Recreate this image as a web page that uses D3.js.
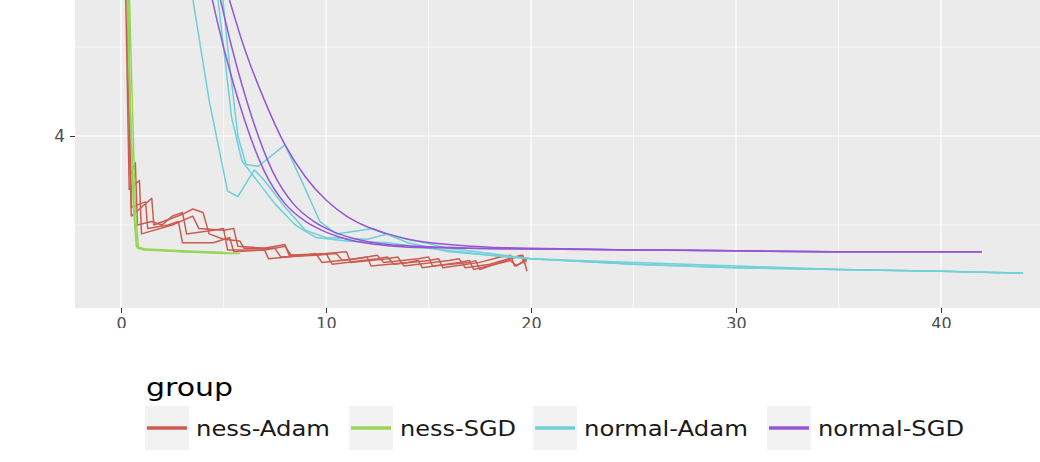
<!DOCTYPE html><html><head><meta charset="utf-8">
<script src="https://cdn.jsdelivr.net/npm/d3@7"></script>
<style>body{margin:0;background:#fff}</style></head><body><svg id="c" width="1040" height="462"></svg>
<script>
const groups=["ness-Adam","ness-SGD","normal-Adam","normal-SGD"];
const colors=["#CD5C50","#97D65A","#6ED0D8","#9457D6"];
const xTicks=[0,10,20,30,40];
const yTicks=[4];
const nessAdam=[
[[0.2,5.3],[0.5,3.55],[1.0,3.6],[1.5,3.65],[1.6,3.5],[3,3.56],[3.5,3.59],[4,3.57],[4.3,3.45],[5,3.42],[5.8,3.41],[6,3.37],[7.5,3.37],[8,3.38],[8.3,3.33],[9.5,3.33],[10.5,3.34],[10.8,3.3],[12,3.32],[12.5,3.33],[12.8,3.29],[14.5,3.31],[15,3.32],[15.2,3.27],[17,3.29],[17.3,3.3],[17.5,3.25],[19,3.31],[19.6,3.33],[19.8,3.24]],
[[0.25,5.3],[0.45,3.78],[0.7,3.85],[0.8,3.5],[1.5,3.52],[2,3.5],[2.5,3.55],[3,3.57],[3.2,3.45],[4.5,3.47],[5,3.48],[5.2,3.36],[7,3.36],[7.5,3.37],[7.8,3.32],[9.5,3.33],[10,3.34],[10.3,3.28],[12.5,3.31],[13,3.32],[13.3,3.28],[15,3.3],[15.5,3.31],[15.7,3.26],[17.5,3.29],[18.5,3.32],[19,3.33],[19.2,3.27],[19.8,3.3]],
[[0.15,5.3],[0.4,3.7],[0.9,3.75],[1.0,3.45],[2.5,3.5],[3.5,3.55],[3.8,3.48],[5,3.47],[5.5,3.48],[5.7,3.38],[7,3.37],[8,3.39],[8.2,3.33],[10,3.34],[11,3.35],[11.2,3.29],[13,3.31],[13.5,3.32],[13.8,3.27],[16,3.3],[16.5,3.31],[16.8,3.26],[18,3.28],[19.5,3.33],[19.7,3.28]],
[[0.3,5.3],[0.5,3.6],[1.2,3.63],[1.3,3.48],[2.3,3.5],[2.8,3.52],[3.0,3.4],[4.5,3.4],[5.3,3.43],[5.5,3.35],[7,3.36],[7.2,3.31],[9,3.33],[9.5,3.34],[9.8,3.29],[11.5,3.31],[12,3.32],[12.2,3.27],[14,3.29],[14.5,3.3],[14.7,3.26],[16.5,3.29],[17,3.3],[17.2,3.25],[19,3.3],[19.3,3.27],[19.8,3.31]]];
const nessSGD=[
[[0.2,5.3],[0.4,4.3],[0.6,3.6],[0.75,3.38],[1,3.365],[3,3.35],[5,3.34],[5.8,3.34]],
[[0.25,5.3],[0.45,4.2],[0.65,3.55],[0.8,3.37],[1.1,3.36],[3,3.35],[5,3.345],[5.5,3.34]],
[[0.3,5.3],[0.5,4.4],[0.7,3.6],[0.85,3.375],[1.2,3.365],[3,3.355],[5,3.345]]];
const normalAdam=[
[[2.9,5.2],[3.6,4.7],[4.3,4.2],[5.2,3.69],[5.7,3.66],[6.5,3.81],[7,3.75],[8,3.6],[9,3.47],[10,3.43],[12,3.42],[13,3.45],[14,3.42],[16,3.37],[18,3.34],[20,3.31],[25,3.28],[30,3.26],[35,3.25],[40,3.24],[44,3.23]],
[[4.6,5.2],[5.2,4.5],[5.7,4.0],[6.1,3.84],[6.7,3.83],[8,3.95],[9,3.7],[9.7,3.52],[10.5,3.45],[12.3,3.48],[14,3.4],[16,3.35],[18,3.33],[20,3.31],[25,3.29],[30,3.27],[35,3.25],[40,3.24],[44,3.23]],
[[4.3,5.2],[4.9,4.6],[5.4,4.1],[5.9,3.86],[6.3,3.8],[7.5,3.62],[8.5,3.5],[9.5,3.43],[11,3.41],[13,3.4],[15,3.37],[18,3.33],[20,3.31],[25,3.28],[30,3.26],[40,3.24],[43.5,3.23]]];
const normalSGD=[
[[4.0,5.0],[5.0,4.5],[6.0,4.1],[7.0,3.8],[8.0,3.62],[9.0,3.52],[10,3.46],[11,3.42],[12.5,3.39],[14,3.375],[17,3.37],[20,3.365],[25,3.36],[30,3.355],[35,3.35],[42,3.35]],
[[4.4,5.0],[5.4,4.5],[6.4,4.1],[7.4,3.8],[8.4,3.62],[9.4,3.52],[10.4,3.46],[11.5,3.42],[13,3.39],[14.5,3.38],[17,3.37],[20,3.365],[25,3.36],[30,3.355],[35,3.35],[42,3.35]],
[[5.2,4.8],[6,4.5],[7,4.2],[8,3.95],[9,3.77],[10,3.64],[11,3.55],[12,3.49],[13,3.45],[14,3.42],[16,3.39],[18,3.375],[20,3.37],[25,3.36],[30,3.355],[35,3.35],[42,3.35]]];
const series=[nessAdam,nessSGD,normalAdam,normalSGD];

const svg=d3.select("#c");
const L=75,R=1040,T=0,B=308;
const x=d3.scaleLinear().domain([0,10]).range([121,326]);
const y=d3.scaleLinear().domain([4,3]).range([136,314]);
svg.append("defs").append("clipPath").attr("id","p").append("rect").attr("x",L).attr("y",T).attr("width",R-L).attr("height",B-T);
svg.append("defs").append("clipPath").attr("id","lab").append("rect").attr("x",0).attr("y",0).attr("width",1040).attr("height",20);
svg.append("rect").attr("x",L).attr("y",T).attr("width",R-L).attr("height",B-T).attr("fill","#EBEBEB");
const g=svg.append("g").attr("clip-path","url(#p)");
[5,15,25,35,45].forEach(v=>g.append("line").attr("x1",x(v)).attr("x2",x(v)).attr("y1",T).attr("y2",B).attr("stroke","#fff").attr("stroke-width",0.6));
[3.5,4.5].forEach(v=>g.append("line").attr("x1",L).attr("x2",R).attr("y1",y(v)).attr("y2",y(v)).attr("stroke","#fff").attr("stroke-width",0.6));
xTicks.forEach(v=>g.append("line").attr("x1",x(v)).attr("x2",x(v)).attr("y1",T).attr("y2",B).attr("stroke","#fff").attr("stroke-width",1.2));
[3,4,5].forEach(v=>g.append("line").attr("x1",L).attr("x2",R).attr("y1",y(v)).attr("y2",y(v)).attr("stroke","#fff").attr("stroke-width",1.2));
const line=d3.line().x(d=>x(d[0])).y(d=>y(d[1])).curve(d3.curveMonotoneX);
const lineL=d3.line().x(d=>x(d[0])).y(d=>y(d[1]));
series.forEach((runs,i)=>runs.forEach(r=>g.append("path").attr("d",(i==3?line:lineL)(r)).attr("fill","none").attr("stroke",colors[i]).attr("stroke-width",1.5).attr("stroke-linejoin","round")));
const xa=svg.append("g").attr("transform",`translate(0,${B})`).attr("clip-path","url(#lab)").call(d3.axisBottom(x).tickValues(xTicks).tickSize(5).tickPadding(5));
xa.select(".domain").remove();
xa.selectAll("line").attr("stroke","#333");
xa.selectAll("text").attr("fill","#4D4D4D").style("font-family","DejaVu Sans").style("font-size","16px");
const ya=svg.append("g").attr("transform",`translate(${L},0)`).call(d3.axisLeft(y).tickValues(yTicks).tickFormat(d3.format("d")).tickSize(5).tickPadding(5));
ya.select(".domain").remove();
ya.selectAll("line").attr("stroke","#333");
ya.selectAll("text").attr("fill","#4D4D4D").style("font-family","DejaVu Sans").style("font-size","17px");
svg.append("text").attr("x",146).attr("y",396).text("group").attr("textLength",87).attr("lengthAdjust","spacingAndGlyphs").style("font-family","DejaVu Sans").style("font-size","24px").attr("fill","#000");
const kx=[145,349,533,767],tl=[134,116,164,146];
groups.forEach((n,i)=>{
 svg.append("rect").attr("x",kx[i]).attr("y",406).attr("width",44).attr("height",44).attr("fill","#F2F2F2");
 svg.append("line").attr("x1",kx[i]+2).attr("x2",kx[i]+42).attr("y1",428).attr("y2",428).attr("stroke",colors[i]).attr("stroke-width",3.5);
 svg.append("text").attr("x",kx[i]+51).attr("y",436).text(n).attr("textLength",tl[i]).attr("lengthAdjust","spacingAndGlyphs").style("font-family","DejaVu Sans").style("font-size","21px").attr("fill","#1A1A1A");
});
</script></body></html>
